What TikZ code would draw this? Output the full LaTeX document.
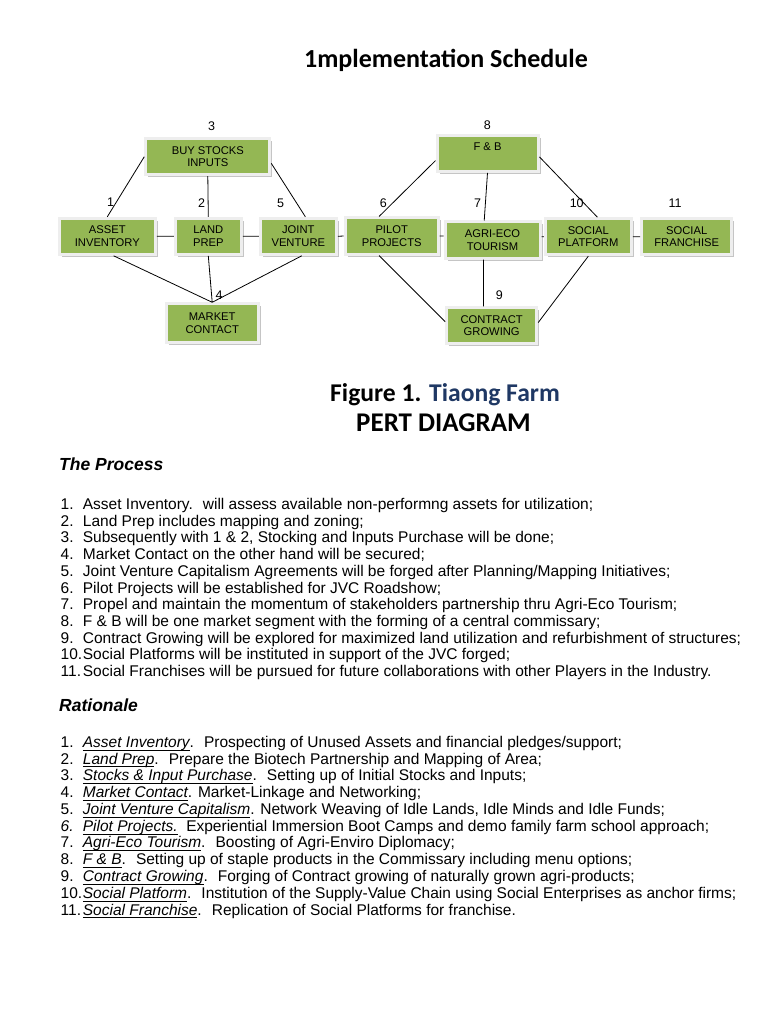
\documentclass[tikz,border=0pt]{standalone}
\usepackage{fontspec}
\setmainfont{Liberation Sans}
\newfontfamily\calibri{Carlito}
\usetikzlibrary{shadows}
\definecolor{farmgreen}{RGB}{148,183,84}
\definecolor{farmblue}{RGB}{31,56,100}
\definecolor{framegray}{RGB}{238,238,238}
\newsavebox\keybox
\newcommand\keyterm[1]{\sbox\keybox{\itshape #1}\rlap{\rule[-3.3pt]{\wd\keybox}{0.9pt}}\usebox\keybox}

\begin{document}
\begin{tikzpicture}[x=1pt,y=-1pt,
	pertbox/.style={draw=framegray, line width=3pt, fill=farmgreen, inner sep=0pt,
		minimum height=36pt, align=center, font=\fontsize{11.2}{12.5}\selectfont,
		drop shadow={shadow xshift=2.5pt, shadow yshift=-2.5pt, fill=black!45}},
	evnum/.style={font=\fontsize{12.5}{14}\selectfont},
	heading/.style={anchor=base west, inner sep=0pt, font=\fontsize{17.5}{20}\selectfont\bfseries\itshape},
	listtext/.style={anchor=base west, inner sep=0pt, font=\fontsize{15.5}{17}\selectfont},
	caption/.style={anchor=base, inner sep=0pt, font=\calibri\bfseries\fontsize{26}{30}\selectfont}]
	\fill[white] (0,0) rectangle (768,1024);
	\useasboundingbox (0,0) rectangle (768,1024);

	\node[caption] (title) at (446,68) {1mplementation Schedule};

	% activities of the PERT network
	\node[pertbox, minimum width=124pt] (stocks) at (207.8,156.7) {BUY STOCKS\\INPUTS};
	\node[pertbox, minimum width=101pt] (fb) at (487.5,153.3) {F \& B\\\mbox{}};
	\node[pertbox, minimum width=96pt] (asset) at (107.3,236.3) {ASSET\\INVENTORY};
	\node[pertbox, minimum width=66pt] (land) at (208.3,236.3) {LAND\\PREP};
	\node[pertbox, minimum width=76pt] (jv) at (298.3,236.3) {JOINT\\VENTURE};
	\node[pertbox, minimum width=93pt] (pilot) at (391.7,236) {PILOT\\PROJECTS};
	\node[pertbox, minimum width=95pt] (agri) at (492.5,240) {AGRI-ECO\\TOURISM};
	\node[pertbox, minimum width=86pt] (platform) at (588.3,236.7) {SOCIAL\\PLATFORM};
	\node[pertbox, minimum width=90pt] (franchise) at (686.7,236.7) {SOCIAL\\FRANCHISE};
	\node[pertbox, minimum width=92pt, minimum height=39pt] (market) at (212.2,323.3) {MARKET\\CONTACT};
	\node[pertbox, minimum width=90pt] (contract) at (491.7,325.8) {CONTRACT\\GROWING};

	% event numbers
	\foreach \t/\x/\y in {3/211.7/126, 8/487.3/125, 1/110.7/202.7, 2/201.7/203,
		5/280.7/203, 6/383.3/203.3, 7/477.7/203.3, 10/576.7/203.3, 11/675/203.3,
		4/219/295, 9/499.3/295}
		\node[evnum] (num\t) at (\x,\y) {\t};

	\draw[line width=0.8pt] \foreach \a/\b in {stocks.west/asset.north, stocks.south/land.north,
		stocks.-6/jv.70, asset.east/land.west, land.east/jv.west, jv.east/pilot.west,
		pilot.east/pilot.east -| agri.west, platform.west -| agri.east/platform.west,
		platform.east/franchise.west,
		asset.-72/market.north, land.south/market.north, jv.-80/market.north,
		fb.188/pilot.123, fb.south/agri.113, fb.-4/platform.65,
		pilot.-123/contract.175, agri.-115/contract.113, platform.south/contract.4}
	{
		(\a) -- (\b)
	};

	\node[caption, font=\calibri\bfseries\fontsize{25.6}{30}\selectfont] (figure) at (445,401.7)
		{Figure 1. \textcolor{farmblue}{Tiaong Farm}};
	\node[caption, font=\calibri\bfseries\fontsize{27}{30}\selectfont] (pert) at (443.5,431.7) {PERT DIAGRAM};

	% the process
	\node[heading] (process) at (59,470.7) {The Process};
	\foreach \n/\t [count=\i] in {
		1./{Asset Inventory.~ will assess available non-performng assets for utilization;},
		2./{Land Prep includes mapping and zoning;},
		3./{Subsequently with 1 \& 2, Stocking and Inputs Purchase will be done;},
		4./{Market Contact on the other hand will be secured;},
		5./{Joint Venture Capitalism Agreements will be forged after Planning/Mapping Initiatives;},
		6./{Pilot Projects will be established for JVC Roadshow;},
		7./{Propel and maintain the momentum of stakeholders partnership thru Agri-Eco Tourism;},
		8./{F \& B will be one market segment with the forming of a central commissary;},
		9./{Contract Growing will be explored for maximized land utilization and refurbishment of structures;},
		10./{Social Platforms will be instituted in support of the JVC forged;},
		11./{Social Franchises will be pursued for future collaborations with other Players in the Industry.}}
	{
		\node[listtext] (pn\i) at (60.5,509.3+16.74*\i-16.74) {\n};
		\node[listtext] (pt\i) at (82.7,509.3+16.74*\i-16.74) {\t};
	}

	% rationale
	\node[heading] (rationale) at (59,711.7) {Rationale};
	\foreach \n/\t [count=\i] in {
		1./{\keyterm{Asset Inventory}.~ Prospecting of Unused Assets and financial pledges/support;},
		2./{\keyterm{Land Prep}.~ Prepare the Biotech Partnership and Mapping of Area;},
		3./{\keyterm{Stocks \& Input Purchase}.~ Setting up of Initial Stocks and Inputs;},
		4./{\keyterm{Market Contact}. Market-Linkage and Networking;},
		5./{\keyterm{Joint Venture Capitalism}. Network Weaving of Idle Lands, Idle Minds and Idle Funds;},
		{\itshape 6.}/{\keyterm{Pilot Projects.}~ Experiential Immersion Boot Camps and demo family farm school approach;},
		7./{\keyterm{Agri-Eco Tourism}.~ Boosting of Agri-Enviro Diplomacy;},
		8./{\keyterm{F \& B}.~ Setting up of staple products in the Commissary including menu options;},
		9./{\keyterm{Contract Growing}.~ Forging of Contract growing of naturally grown agri-products;},
		10./{\keyterm{Social Platform}.~ Institution of the Supply-Value Chain using Social Enterprises as anchor firms;},
		11./{\keyterm{Social Franchise}.~ Replication of Social Platforms for franchise.}}
	{
		\node[listtext] (rn\i) at (60.5,747.3+16.77*\i-16.77) {\n};
		\node[listtext] (rt\i) at (82.7,747.3+16.77*\i-16.77) {\t};
	}
\end{tikzpicture}
\end{document}
